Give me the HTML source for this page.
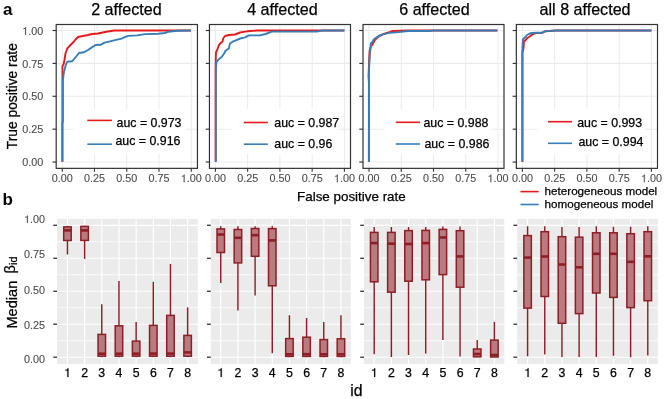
<!DOCTYPE html><html><head><meta charset="utf-8"><style>html,body{margin:0;padding:0;background:#fff;}svg{display:block;}text{font-family:"Liberation Sans", sans-serif;stroke-width:0.25px;}text[fill="#4D4D4D"]{stroke-width:0.12px;}</style></head><body>
<div style="will-change:transform;width:664px;height:399px"><svg width="664" height="399" viewBox="0 0 664 399">
<rect x="0" y="0" width="664" height="399" fill="#fff"/>
<text x="3.0" y="14.5" font-size="17" font-weight="bold" fill="#000" stroke="#000" style="stroke-width:0">a</text>
<text x="2.6" y="204.7" font-size="17" font-weight="bold" fill="#000" stroke="#000" style="stroke-width:0">b</text>
<line x1="62.25" y1="24.50" x2="62.25" y2="168.35" stroke="#EBEBEB" stroke-width="1.05"/>
<line x1="56.20" y1="162.05" x2="197.45" y2="162.05" stroke="#EBEBEB" stroke-width="1.05"/>
<line x1="94.50" y1="24.50" x2="94.50" y2="168.35" stroke="#EBEBEB" stroke-width="1.05"/>
<line x1="56.20" y1="129.16" x2="197.45" y2="129.16" stroke="#EBEBEB" stroke-width="1.05"/>
<line x1="126.75" y1="24.50" x2="126.75" y2="168.35" stroke="#EBEBEB" stroke-width="1.05"/>
<line x1="56.20" y1="96.28" x2="197.45" y2="96.28" stroke="#EBEBEB" stroke-width="1.05"/>
<line x1="159.00" y1="24.50" x2="159.00" y2="168.35" stroke="#EBEBEB" stroke-width="1.05"/>
<line x1="56.20" y1="63.39" x2="197.45" y2="63.39" stroke="#EBEBEB" stroke-width="1.05"/>
<line x1="191.25" y1="24.50" x2="191.25" y2="168.35" stroke="#EBEBEB" stroke-width="1.05"/>
<line x1="56.20" y1="30.50" x2="197.45" y2="30.50" stroke="#EBEBEB" stroke-width="1.05"/>
<polyline points="62.45,161.70 62.45,66.00 63.50,64.50 64.50,60.00 65.40,53.80 67.00,49.30 68.00,47.60 71.00,44.50 74.00,41.50 75.50,39.50 78.00,37.00 83.00,36.00 88.00,35.00 92.00,34.00 98.00,33.50 106.30,31.80 114.40,30.50 191.00,30.50" fill="none" stroke="#E41A1C" stroke-width="1.9" stroke-linejoin="round"/>
<polyline points="62.30,161.70 62.30,122.50 62.90,122.00 62.90,81.00 63.50,75.00 64.00,72.00 65.50,66.00 67.00,62.00 68.00,61.50 72.30,61.20 74.60,58.50 79.00,53.00 84.00,52.30 88.00,50.00 93.00,46.60 95.60,45.00 100.60,44.80 104.60,42.70 111.10,41.10 116.00,39.90 121.70,38.60 124.20,37.30 128.20,35.90 137.20,35.40 145.30,34.10 158.30,33.80 164.80,33.00 168.10,31.80 177.80,30.80 191.00,30.50" fill="none" stroke="#377EB8" stroke-width="1.9" stroke-linejoin="round"/>
<rect x="73.50" y="109.00" width="112.50" height="45.00" fill="#fff"/>
<line x1="87.30" y1="120.40" x2="111.90" y2="120.40" stroke="#E41A1C" stroke-width="1.6"/>
<line x1="87.30" y1="144.20" x2="111.90" y2="144.20" stroke="#377EB8" stroke-width="1.6"/>
<text x="116.60" y="126.60" font-size="12.35" fill="#000" stroke="#000">auc = 0.973</text>
<text x="115.50" y="145.20" font-size="12.35" fill="#000" stroke="#000">auc = 0.916</text>
<rect x="56.20" y="24.50" width="141.25" height="143.85" fill="none" stroke="#333" stroke-width="1.2"/>
<line x1="52.50" y1="162.05" x2="56.20" y2="162.05" stroke="#333" stroke-width="1.15"/>
<line x1="52.50" y1="129.16" x2="56.20" y2="129.16" stroke="#333" stroke-width="1.15"/>
<line x1="52.50" y1="96.28" x2="56.20" y2="96.28" stroke="#333" stroke-width="1.15"/>
<line x1="52.50" y1="63.39" x2="56.20" y2="63.39" stroke="#333" stroke-width="1.15"/>
<line x1="52.50" y1="30.50" x2="56.20" y2="30.50" stroke="#333" stroke-width="1.15"/>
<line x1="62.25" y1="168.35" x2="62.25" y2="171.75" stroke="#333" stroke-width="1.1"/>
<text x="62.25" y="182.2" font-size="10.8" fill="#4D4D4D" stroke="#4D4D4D" text-anchor="middle">0.00</text>
<line x1="94.50" y1="168.35" x2="94.50" y2="171.75" stroke="#333" stroke-width="1.1"/>
<text x="94.50" y="182.2" font-size="10.8" fill="#4D4D4D" stroke="#4D4D4D" text-anchor="middle">0.25</text>
<line x1="126.75" y1="168.35" x2="126.75" y2="171.75" stroke="#333" stroke-width="1.1"/>
<text x="126.75" y="182.2" font-size="10.8" fill="#4D4D4D" stroke="#4D4D4D" text-anchor="middle">0.50</text>
<line x1="159.00" y1="168.35" x2="159.00" y2="171.75" stroke="#333" stroke-width="1.1"/>
<text x="159.00" y="182.2" font-size="10.8" fill="#4D4D4D" stroke="#4D4D4D" text-anchor="middle">0.75</text>
<line x1="191.25" y1="168.35" x2="191.25" y2="171.75" stroke="#333" stroke-width="1.1"/>
<polygon points="183.67,182.20 184.62,182.20 184.62,174.61 183.92,174.61 183.74,175.13 183.31,175.61 182.69,175.85 181.83,175.94 181.83,176.61 183.67,176.61" fill="#4D4D4D" stroke="#4D4D4D" stroke-width="0.12"/><text x="186.75" y="182.20" font-size="10.8" fill="#4D4D4D" stroke="#4D4D4D">.00</text>
<text x="126.40" y="14.5" font-size="16.1" fill="#000" stroke="#000" text-anchor="middle">2 affected</text>
<line x1="215.40" y1="24.50" x2="215.40" y2="168.35" stroke="#EBEBEB" stroke-width="1.05"/>
<line x1="209.45" y1="162.05" x2="350.50" y2="162.05" stroke="#EBEBEB" stroke-width="1.05"/>
<line x1="247.65" y1="24.50" x2="247.65" y2="168.35" stroke="#EBEBEB" stroke-width="1.05"/>
<line x1="209.45" y1="129.16" x2="350.50" y2="129.16" stroke="#EBEBEB" stroke-width="1.05"/>
<line x1="279.90" y1="24.50" x2="279.90" y2="168.35" stroke="#EBEBEB" stroke-width="1.05"/>
<line x1="209.45" y1="96.28" x2="350.50" y2="96.28" stroke="#EBEBEB" stroke-width="1.05"/>
<line x1="312.15" y1="24.50" x2="312.15" y2="168.35" stroke="#EBEBEB" stroke-width="1.05"/>
<line x1="209.45" y1="63.39" x2="350.50" y2="63.39" stroke="#EBEBEB" stroke-width="1.05"/>
<line x1="344.40" y1="24.50" x2="344.40" y2="168.35" stroke="#EBEBEB" stroke-width="1.05"/>
<line x1="209.45" y1="30.50" x2="350.50" y2="30.50" stroke="#EBEBEB" stroke-width="1.05"/>
<polyline points="215.60,161.70 215.60,69.10 215.80,56.00 216.00,52.30 217.50,49.20 218.80,45.40 220.70,42.90 222.50,41.70 223.20,38.50 225.00,36.00 228.80,35.00 235.00,34.50 240.10,32.50 245.10,31.60 250.00,31.00 257.10,30.50 344.40,30.50" fill="none" stroke="#E41A1C" stroke-width="1.9" stroke-linejoin="round"/>
<polyline points="215.85,161.70 215.85,69.10 216.30,62.40 218.20,59.90 221.90,56.70 224.40,53.00 225.70,50.50 228.80,48.60 230.00,43.60 232.60,41.70 237.00,39.80 240.10,38.50 245.10,37.30 248.90,35.40 260.00,35.40 265.50,34.00 271.80,31.60 316.80,31.60 322.40,30.50 344.40,30.50" fill="none" stroke="#377EB8" stroke-width="1.9" stroke-linejoin="round"/>
<rect x="231.70" y="109.00" width="107.30" height="45.30" fill="#fff"/>
<line x1="243.80" y1="122.50" x2="267.80" y2="122.50" stroke="#E41A1C" stroke-width="1.6"/>
<line x1="243.80" y1="144.20" x2="267.80" y2="144.20" stroke="#377EB8" stroke-width="1.6"/>
<text x="274.30" y="127.10" font-size="12.35" fill="#000" stroke="#000">auc = 0.987</text>
<text x="274.30" y="147.60" font-size="12.35" fill="#000" stroke="#000">auc = 0.96</text>
<rect x="209.45" y="24.50" width="141.05" height="143.85" fill="none" stroke="#333" stroke-width="1.2"/>
<line x1="205.75" y1="162.05" x2="209.45" y2="162.05" stroke="#333" stroke-width="1.15"/>
<line x1="205.75" y1="129.16" x2="209.45" y2="129.16" stroke="#333" stroke-width="1.15"/>
<line x1="205.75" y1="96.28" x2="209.45" y2="96.28" stroke="#333" stroke-width="1.15"/>
<line x1="205.75" y1="63.39" x2="209.45" y2="63.39" stroke="#333" stroke-width="1.15"/>
<line x1="205.75" y1="30.50" x2="209.45" y2="30.50" stroke="#333" stroke-width="1.15"/>
<line x1="215.40" y1="168.35" x2="215.40" y2="171.75" stroke="#333" stroke-width="1.1"/>
<text x="215.40" y="182.2" font-size="10.8" fill="#4D4D4D" stroke="#4D4D4D" text-anchor="middle">0.00</text>
<line x1="247.65" y1="168.35" x2="247.65" y2="171.75" stroke="#333" stroke-width="1.1"/>
<text x="247.65" y="182.2" font-size="10.8" fill="#4D4D4D" stroke="#4D4D4D" text-anchor="middle">0.25</text>
<line x1="279.90" y1="168.35" x2="279.90" y2="171.75" stroke="#333" stroke-width="1.1"/>
<text x="279.90" y="182.2" font-size="10.8" fill="#4D4D4D" stroke="#4D4D4D" text-anchor="middle">0.50</text>
<line x1="312.15" y1="168.35" x2="312.15" y2="171.75" stroke="#333" stroke-width="1.1"/>
<text x="312.15" y="182.2" font-size="10.8" fill="#4D4D4D" stroke="#4D4D4D" text-anchor="middle">0.75</text>
<line x1="344.40" y1="168.35" x2="344.40" y2="171.75" stroke="#333" stroke-width="1.1"/>
<polygon points="336.82,182.20 337.77,182.20 337.77,174.61 337.07,174.61 336.89,175.13 336.46,175.61 335.84,175.85 334.98,175.94 334.98,176.61 336.82,176.61" fill="#4D4D4D" stroke="#4D4D4D" stroke-width="0.12"/><text x="339.90" y="182.20" font-size="10.8" fill="#4D4D4D" stroke="#4D4D4D">.00</text>
<text x="282.40" y="14.5" font-size="16.1" fill="#000" stroke="#000" text-anchor="middle">4 affected</text>
<line x1="369.00" y1="24.50" x2="369.00" y2="168.35" stroke="#EBEBEB" stroke-width="1.05"/>
<line x1="363.00" y1="162.05" x2="504.00" y2="162.05" stroke="#EBEBEB" stroke-width="1.05"/>
<line x1="401.25" y1="24.50" x2="401.25" y2="168.35" stroke="#EBEBEB" stroke-width="1.05"/>
<line x1="363.00" y1="129.16" x2="504.00" y2="129.16" stroke="#EBEBEB" stroke-width="1.05"/>
<line x1="433.50" y1="24.50" x2="433.50" y2="168.35" stroke="#EBEBEB" stroke-width="1.05"/>
<line x1="363.00" y1="96.28" x2="504.00" y2="96.28" stroke="#EBEBEB" stroke-width="1.05"/>
<line x1="465.75" y1="24.50" x2="465.75" y2="168.35" stroke="#EBEBEB" stroke-width="1.05"/>
<line x1="363.00" y1="63.39" x2="504.00" y2="63.39" stroke="#EBEBEB" stroke-width="1.05"/>
<line x1="498.00" y1="24.50" x2="498.00" y2="168.35" stroke="#EBEBEB" stroke-width="1.05"/>
<line x1="363.00" y1="30.50" x2="504.00" y2="30.50" stroke="#EBEBEB" stroke-width="1.05"/>
<polyline points="368.90,161.70 368.90,82.00 368.50,76.00 369.00,65.00 369.60,51.00 370.80,46.50 372.40,44.60 374.80,40.20 378.00,37.00 382.00,34.60 386.00,33.20 389.50,32.10 392.70,31.00 408.00,30.50 497.40,30.50" fill="none" stroke="#E41A1C" stroke-width="1.9" stroke-linejoin="round"/>
<polyline points="368.90,161.70 369.00,70.00 369.80,55.00 370.60,47.50 370.80,43.30 372.30,42.20 373.80,39.50 376.00,37.70 379.80,35.40 385.00,33.90 389.60,32.90 393.60,32.60 399.00,32.10 408.00,31.00 429.70,31.00 433.40,30.50 497.40,30.50" fill="none" stroke="#377EB8" stroke-width="1.9" stroke-linejoin="round"/>
<rect x="384.00" y="109.00" width="108.00" height="45.30" fill="#fff"/>
<line x1="395.80" y1="122.30" x2="419.90" y2="122.30" stroke="#E41A1C" stroke-width="1.6"/>
<line x1="395.80" y1="144.00" x2="419.90" y2="144.00" stroke="#377EB8" stroke-width="1.6"/>
<text x="423.50" y="126.90" font-size="12.35" fill="#000" stroke="#000">auc = 0.988</text>
<text x="424.50" y="147.80" font-size="12.35" fill="#000" stroke="#000">auc = 0.986</text>
<rect x="363.00" y="24.50" width="141.00" height="143.85" fill="none" stroke="#333" stroke-width="1.2"/>
<line x1="359.30" y1="162.05" x2="363.00" y2="162.05" stroke="#333" stroke-width="1.15"/>
<line x1="359.30" y1="129.16" x2="363.00" y2="129.16" stroke="#333" stroke-width="1.15"/>
<line x1="359.30" y1="96.28" x2="363.00" y2="96.28" stroke="#333" stroke-width="1.15"/>
<line x1="359.30" y1="63.39" x2="363.00" y2="63.39" stroke="#333" stroke-width="1.15"/>
<line x1="359.30" y1="30.50" x2="363.00" y2="30.50" stroke="#333" stroke-width="1.15"/>
<line x1="369.00" y1="168.35" x2="369.00" y2="171.75" stroke="#333" stroke-width="1.1"/>
<text x="369.00" y="182.2" font-size="10.8" fill="#4D4D4D" stroke="#4D4D4D" text-anchor="middle">0.00</text>
<line x1="401.25" y1="168.35" x2="401.25" y2="171.75" stroke="#333" stroke-width="1.1"/>
<text x="401.25" y="182.2" font-size="10.8" fill="#4D4D4D" stroke="#4D4D4D" text-anchor="middle">0.25</text>
<line x1="433.50" y1="168.35" x2="433.50" y2="171.75" stroke="#333" stroke-width="1.1"/>
<text x="433.50" y="182.2" font-size="10.8" fill="#4D4D4D" stroke="#4D4D4D" text-anchor="middle">0.50</text>
<line x1="465.75" y1="168.35" x2="465.75" y2="171.75" stroke="#333" stroke-width="1.1"/>
<text x="465.75" y="182.2" font-size="10.8" fill="#4D4D4D" stroke="#4D4D4D" text-anchor="middle">0.75</text>
<line x1="498.00" y1="168.35" x2="498.00" y2="171.75" stroke="#333" stroke-width="1.1"/>
<polygon points="490.42,182.20 491.37,182.20 491.37,174.61 490.67,174.61 490.49,175.13 490.06,175.61 489.44,175.85 488.58,175.94 488.58,176.61 490.42,176.61" fill="#4D4D4D" stroke="#4D4D4D" stroke-width="0.12"/><text x="493.50" y="182.20" font-size="10.8" fill="#4D4D4D" stroke="#4D4D4D">.00</text>
<text x="434.45" y="14.5" font-size="16.1" fill="#000" stroke="#000" text-anchor="middle">6 affected</text>
<line x1="522.40" y1="24.50" x2="522.40" y2="168.35" stroke="#EBEBEB" stroke-width="1.05"/>
<line x1="516.35" y1="162.05" x2="657.50" y2="162.05" stroke="#EBEBEB" stroke-width="1.05"/>
<line x1="554.65" y1="24.50" x2="554.65" y2="168.35" stroke="#EBEBEB" stroke-width="1.05"/>
<line x1="516.35" y1="129.16" x2="657.50" y2="129.16" stroke="#EBEBEB" stroke-width="1.05"/>
<line x1="586.90" y1="24.50" x2="586.90" y2="168.35" stroke="#EBEBEB" stroke-width="1.05"/>
<line x1="516.35" y1="96.28" x2="657.50" y2="96.28" stroke="#EBEBEB" stroke-width="1.05"/>
<line x1="619.15" y1="24.50" x2="619.15" y2="168.35" stroke="#EBEBEB" stroke-width="1.05"/>
<line x1="516.35" y1="63.39" x2="657.50" y2="63.39" stroke="#EBEBEB" stroke-width="1.05"/>
<line x1="651.40" y1="24.50" x2="651.40" y2="168.35" stroke="#EBEBEB" stroke-width="1.05"/>
<line x1="516.35" y1="30.50" x2="657.50" y2="30.50" stroke="#EBEBEB" stroke-width="1.05"/>
<polyline points="522.40,161.70 522.40,53.00 523.50,48.00 524.00,41.50 526.00,39.50 527.80,37.70 531.20,35.50 533.00,34.00 536.00,33.00 542.00,32.90 545.00,31.40 549.60,31.00 556.00,30.50 651.40,30.50" fill="none" stroke="#E41A1C" stroke-width="1.9" stroke-linejoin="round"/>
<polyline points="522.40,161.70 522.40,48.60 522.90,39.50 523.60,38.40 525.50,36.90 527.00,35.00 529.00,34.00 531.50,33.00 537.00,32.80 542.00,32.80 545.00,31.30 549.60,30.90 556.00,30.50 651.40,30.50" fill="none" stroke="#377EB8" stroke-width="1.9" stroke-linejoin="round"/>
<rect x="537.00" y="109.00" width="108.00" height="45.30" fill="#fff"/>
<line x1="548.00" y1="121.70" x2="572.00" y2="121.70" stroke="#E41A1C" stroke-width="1.6"/>
<line x1="548.00" y1="143.30" x2="572.00" y2="143.30" stroke="#377EB8" stroke-width="1.6"/>
<text x="577.20" y="126.80" font-size="12.35" fill="#000" stroke="#000">auc = 0.993</text>
<text x="578.50" y="145.70" font-size="12.35" fill="#000" stroke="#000">auc = 0.994</text>
<rect x="516.35" y="24.50" width="141.15" height="143.85" fill="none" stroke="#333" stroke-width="1.2"/>
<line x1="512.65" y1="162.05" x2="516.35" y2="162.05" stroke="#333" stroke-width="1.15"/>
<line x1="512.65" y1="129.16" x2="516.35" y2="129.16" stroke="#333" stroke-width="1.15"/>
<line x1="512.65" y1="96.28" x2="516.35" y2="96.28" stroke="#333" stroke-width="1.15"/>
<line x1="512.65" y1="63.39" x2="516.35" y2="63.39" stroke="#333" stroke-width="1.15"/>
<line x1="512.65" y1="30.50" x2="516.35" y2="30.50" stroke="#333" stroke-width="1.15"/>
<line x1="522.40" y1="168.35" x2="522.40" y2="171.75" stroke="#333" stroke-width="1.1"/>
<text x="522.40" y="182.2" font-size="10.8" fill="#4D4D4D" stroke="#4D4D4D" text-anchor="middle">0.00</text>
<line x1="554.65" y1="168.35" x2="554.65" y2="171.75" stroke="#333" stroke-width="1.1"/>
<text x="554.65" y="182.2" font-size="10.8" fill="#4D4D4D" stroke="#4D4D4D" text-anchor="middle">0.25</text>
<line x1="586.90" y1="168.35" x2="586.90" y2="171.75" stroke="#333" stroke-width="1.1"/>
<text x="586.90" y="182.2" font-size="10.8" fill="#4D4D4D" stroke="#4D4D4D" text-anchor="middle">0.50</text>
<line x1="619.15" y1="168.35" x2="619.15" y2="171.75" stroke="#333" stroke-width="1.1"/>
<text x="619.15" y="182.2" font-size="10.8" fill="#4D4D4D" stroke="#4D4D4D" text-anchor="middle">0.75</text>
<line x1="651.40" y1="168.35" x2="651.40" y2="171.75" stroke="#333" stroke-width="1.1"/>
<polygon points="643.82,182.20 644.77,182.20 644.77,174.61 644.07,174.61 643.89,175.13 643.46,175.61 642.84,175.85 641.98,175.94 641.98,176.61 643.82,176.61" fill="#4D4D4D" stroke="#4D4D4D" stroke-width="0.12"/><text x="646.90" y="182.20" font-size="10.8" fill="#4D4D4D" stroke="#4D4D4D">.00</text>
<text x="585.05" y="14.5" font-size="16.1" fill="#000" stroke="#000" text-anchor="middle">all 8 affected</text>
<text x="43.2" y="166.25" font-size="10.8" fill="#4D4D4D" stroke="#4D4D4D" text-anchor="end">0.00</text>
<text x="43.2" y="133.36" font-size="10.8" fill="#4D4D4D" stroke="#4D4D4D" text-anchor="end">0.25</text>
<text x="43.2" y="100.48" font-size="10.8" fill="#4D4D4D" stroke="#4D4D4D" text-anchor="end">0.50</text>
<text x="43.2" y="67.59" font-size="10.8" fill="#4D4D4D" stroke="#4D4D4D" text-anchor="end">0.75</text>
<polygon points="25.11,34.70 26.06,34.70 26.06,27.11 25.36,27.11 25.19,27.63 24.75,28.11 24.13,28.35 23.27,28.44 23.27,29.11 25.11,29.11" fill="#4D4D4D" stroke="#4D4D4D" stroke-width="0.12"/><text x="28.19" y="34.70" font-size="10.8" fill="#4D4D4D" stroke="#4D4D4D">.00</text>
<text transform="translate(16.8,96.2) rotate(-90)" font-size="13.8" fill="#000" stroke="#000" text-anchor="middle">True positive rate</text>
<text x="351.4" y="201.3" font-size="13.4" fill="#000" stroke="#000" text-anchor="middle">False positive rate</text>
<line x1="520.5" y1="191.6" x2="538.7" y2="191.6" stroke="#E41A1C" stroke-width="1.6"/>
<line x1="520.5" y1="204.5" x2="538.7" y2="204.5" stroke="#377EB8" stroke-width="1.6"/>
<text x="544.6" y="195.3" font-size="11.65" fill="#000" stroke="#000">heterogeneous model</text>
<text x="544.6" y="207.5" font-size="11.65" fill="#000" stroke="#000">homogeneous model</text>
<rect x="57.06" y="218.90" width="140.74" height="145.10" fill="#EBEBEB"/>
<line x1="57.06" y1="340.71" x2="197.80" y2="340.71" stroke="#fff" stroke-width="0.8"/>
<line x1="57.06" y1="307.74" x2="197.80" y2="307.74" stroke="#fff" stroke-width="0.8"/>
<line x1="57.06" y1="274.76" x2="197.80" y2="274.76" stroke="#fff" stroke-width="0.8"/>
<line x1="57.06" y1="241.79" x2="197.80" y2="241.79" stroke="#fff" stroke-width="0.8"/>
<line x1="57.06" y1="357.20" x2="197.80" y2="357.20" stroke="#fff" stroke-width="1.15"/>
<line x1="57.06" y1="324.23" x2="197.80" y2="324.23" stroke="#fff" stroke-width="1.15"/>
<line x1="57.06" y1="291.25" x2="197.80" y2="291.25" stroke="#fff" stroke-width="1.15"/>
<line x1="57.06" y1="258.27" x2="197.80" y2="258.27" stroke="#fff" stroke-width="1.15"/>
<line x1="57.06" y1="225.30" x2="197.80" y2="225.30" stroke="#fff" stroke-width="1.15"/>
<line x1="67.45" y1="218.90" x2="67.45" y2="364.00" stroke="#fff" stroke-width="1.15"/>
<line x1="84.62" y1="218.90" x2="84.62" y2="364.00" stroke="#fff" stroke-width="1.15"/>
<line x1="101.79" y1="218.90" x2="101.79" y2="364.00" stroke="#fff" stroke-width="1.15"/>
<line x1="118.96" y1="218.90" x2="118.96" y2="364.00" stroke="#fff" stroke-width="1.15"/>
<line x1="136.13" y1="218.90" x2="136.13" y2="364.00" stroke="#fff" stroke-width="1.15"/>
<line x1="153.30" y1="218.90" x2="153.30" y2="364.00" stroke="#fff" stroke-width="1.15"/>
<line x1="170.47" y1="218.90" x2="170.47" y2="364.00" stroke="#fff" stroke-width="1.15"/>
<line x1="187.64" y1="218.90" x2="187.64" y2="364.00" stroke="#fff" stroke-width="1.15"/>
<line x1="67.45" y1="225.80" x2="67.45" y2="226.90" stroke="#8E1E25" stroke-width="1.45"/>
<line x1="67.45" y1="240.50" x2="67.45" y2="254.50" stroke="#8E1E25" stroke-width="1.45"/>
<rect x="63.70" y="226.90" width="7.50" height="13.60" fill="#BA7B80" stroke="#8E1E25" stroke-width="1.5"/>
<line x1="63.70" y1="230.40" x2="71.20" y2="230.40" stroke="#8E1E25" stroke-width="2.6"/>
<line x1="84.62" y1="225.80" x2="84.62" y2="226.40" stroke="#8E1E25" stroke-width="1.45"/>
<line x1="84.62" y1="240.40" x2="84.62" y2="258.90" stroke="#8E1E25" stroke-width="1.45"/>
<rect x="80.87" y="226.40" width="7.50" height="14.00" fill="#BA7B80" stroke="#8E1E25" stroke-width="1.5"/>
<line x1="80.87" y1="230.40" x2="88.37" y2="230.40" stroke="#8E1E25" stroke-width="2.6"/>
<line x1="101.79" y1="304.20" x2="101.79" y2="334.40" stroke="#8E1E25" stroke-width="1.45"/>
<line x1="101.79" y1="356.20" x2="101.79" y2="357.20" stroke="#8E1E25" stroke-width="1.45"/>
<rect x="98.04" y="334.40" width="7.50" height="21.80" fill="#BA7B80" stroke="#8E1E25" stroke-width="1.5"/>
<line x1="98.04" y1="353.70" x2="105.54" y2="353.70" stroke="#8E1E25" stroke-width="2.6"/>
<line x1="118.96" y1="281.00" x2="118.96" y2="325.80" stroke="#8E1E25" stroke-width="1.45"/>
<line x1="118.96" y1="356.20" x2="118.96" y2="357.20" stroke="#8E1E25" stroke-width="1.45"/>
<rect x="115.21" y="325.80" width="7.50" height="30.40" fill="#BA7B80" stroke="#8E1E25" stroke-width="1.5"/>
<line x1="115.21" y1="353.70" x2="122.71" y2="353.70" stroke="#8E1E25" stroke-width="2.6"/>
<line x1="136.13" y1="322.10" x2="136.13" y2="341.10" stroke="#8E1E25" stroke-width="1.45"/>
<line x1="136.13" y1="356.20" x2="136.13" y2="357.20" stroke="#8E1E25" stroke-width="1.45"/>
<rect x="132.38" y="341.10" width="7.50" height="15.10" fill="#BA7B80" stroke="#8E1E25" stroke-width="1.5"/>
<line x1="132.38" y1="353.70" x2="139.88" y2="353.70" stroke="#8E1E25" stroke-width="2.6"/>
<line x1="153.30" y1="281.80" x2="153.30" y2="325.40" stroke="#8E1E25" stroke-width="1.45"/>
<line x1="153.30" y1="356.20" x2="153.30" y2="357.20" stroke="#8E1E25" stroke-width="1.45"/>
<rect x="149.55" y="325.40" width="7.50" height="30.80" fill="#BA7B80" stroke="#8E1E25" stroke-width="1.5"/>
<line x1="149.55" y1="353.60" x2="157.05" y2="353.60" stroke="#8E1E25" stroke-width="2.6"/>
<line x1="170.47" y1="263.90" x2="170.47" y2="315.40" stroke="#8E1E25" stroke-width="1.45"/>
<line x1="170.47" y1="356.20" x2="170.47" y2="357.20" stroke="#8E1E25" stroke-width="1.45"/>
<rect x="166.72" y="315.40" width="7.50" height="40.80" fill="#BA7B80" stroke="#8E1E25" stroke-width="1.5"/>
<line x1="166.72" y1="353.60" x2="174.22" y2="353.60" stroke="#8E1E25" stroke-width="2.6"/>
<line x1="187.64" y1="307.40" x2="187.64" y2="335.40" stroke="#8E1E25" stroke-width="1.45"/>
<line x1="187.64" y1="356.20" x2="187.64" y2="357.20" stroke="#8E1E25" stroke-width="1.45"/>
<rect x="183.89" y="335.40" width="7.50" height="20.80" fill="#BA7B80" stroke="#8E1E25" stroke-width="1.5"/>
<line x1="183.89" y1="352.40" x2="191.39" y2="352.40" stroke="#8E1E25" stroke-width="2.6"/>
<line x1="53.26" y1="357.20" x2="57.06" y2="357.20" stroke="#333" stroke-width="1.3"/>
<line x1="53.26" y1="324.23" x2="57.06" y2="324.23" stroke="#333" stroke-width="1.3"/>
<line x1="53.26" y1="291.25" x2="57.06" y2="291.25" stroke="#333" stroke-width="1.3"/>
<line x1="53.26" y1="258.27" x2="57.06" y2="258.27" stroke="#333" stroke-width="1.3"/>
<line x1="53.26" y1="225.30" x2="57.06" y2="225.30" stroke="#333" stroke-width="1.3"/>
<polygon points="67.36,376.90 68.45,376.90 68.45,368.25 67.65,368.25 67.45,368.84 66.96,369.40 66.24,369.67 65.27,369.77 65.27,370.53 67.36,370.53" fill="#000" stroke="#000" stroke-width="0.20"/>
<text x="84.62" y="376.9" font-size="12.3" fill="#000" stroke="#000" text-anchor="middle">2</text>
<text x="101.79" y="376.9" font-size="12.3" fill="#000" stroke="#000" text-anchor="middle">3</text>
<text x="118.96" y="376.9" font-size="12.3" fill="#000" stroke="#000" text-anchor="middle">4</text>
<text x="136.13" y="376.9" font-size="12.3" fill="#000" stroke="#000" text-anchor="middle">5</text>
<text x="153.30" y="376.9" font-size="12.3" fill="#000" stroke="#000" text-anchor="middle">6</text>
<text x="170.47" y="376.9" font-size="12.3" fill="#000" stroke="#000" text-anchor="middle">7</text>
<text x="187.64" y="376.9" font-size="12.3" fill="#000" stroke="#000" text-anchor="middle">8</text>
<rect x="210.80" y="218.90" width="140.00" height="145.10" fill="#EBEBEB"/>
<line x1="210.80" y1="340.71" x2="350.80" y2="340.71" stroke="#fff" stroke-width="0.8"/>
<line x1="210.80" y1="307.74" x2="350.80" y2="307.74" stroke="#fff" stroke-width="0.8"/>
<line x1="210.80" y1="274.76" x2="350.80" y2="274.76" stroke="#fff" stroke-width="0.8"/>
<line x1="210.80" y1="241.79" x2="350.80" y2="241.79" stroke="#fff" stroke-width="0.8"/>
<line x1="210.80" y1="357.20" x2="350.80" y2="357.20" stroke="#fff" stroke-width="1.15"/>
<line x1="210.80" y1="324.23" x2="350.80" y2="324.23" stroke="#fff" stroke-width="1.15"/>
<line x1="210.80" y1="291.25" x2="350.80" y2="291.25" stroke="#fff" stroke-width="1.15"/>
<line x1="210.80" y1="258.27" x2="350.80" y2="258.27" stroke="#fff" stroke-width="1.15"/>
<line x1="210.80" y1="225.30" x2="350.80" y2="225.30" stroke="#fff" stroke-width="1.15"/>
<line x1="220.75" y1="218.90" x2="220.75" y2="364.00" stroke="#fff" stroke-width="1.15"/>
<line x1="237.92" y1="218.90" x2="237.92" y2="364.00" stroke="#fff" stroke-width="1.15"/>
<line x1="255.09" y1="218.90" x2="255.09" y2="364.00" stroke="#fff" stroke-width="1.15"/>
<line x1="272.26" y1="218.90" x2="272.26" y2="364.00" stroke="#fff" stroke-width="1.15"/>
<line x1="289.43" y1="218.90" x2="289.43" y2="364.00" stroke="#fff" stroke-width="1.15"/>
<line x1="306.60" y1="218.90" x2="306.60" y2="364.00" stroke="#fff" stroke-width="1.15"/>
<line x1="323.77" y1="218.90" x2="323.77" y2="364.00" stroke="#fff" stroke-width="1.15"/>
<line x1="340.94" y1="218.90" x2="340.94" y2="364.00" stroke="#fff" stroke-width="1.15"/>
<line x1="220.75" y1="226.20" x2="220.75" y2="228.90" stroke="#8E1E25" stroke-width="1.45"/>
<line x1="220.75" y1="252.50" x2="220.75" y2="283.00" stroke="#8E1E25" stroke-width="1.45"/>
<rect x="217.00" y="228.90" width="7.50" height="23.60" fill="#BA7B80" stroke="#8E1E25" stroke-width="1.5"/>
<line x1="217.00" y1="234.50" x2="224.50" y2="234.50" stroke="#8E1E25" stroke-width="2.6"/>
<line x1="237.92" y1="226.20" x2="237.92" y2="229.50" stroke="#8E1E25" stroke-width="1.45"/>
<line x1="237.92" y1="262.90" x2="237.92" y2="310.60" stroke="#8E1E25" stroke-width="1.45"/>
<rect x="234.17" y="229.50" width="7.50" height="33.40" fill="#BA7B80" stroke="#8E1E25" stroke-width="1.5"/>
<line x1="234.17" y1="237.80" x2="241.67" y2="237.80" stroke="#8E1E25" stroke-width="2.6"/>
<line x1="255.09" y1="226.20" x2="255.09" y2="228.50" stroke="#8E1E25" stroke-width="1.45"/>
<line x1="255.09" y1="256.30" x2="255.09" y2="295.50" stroke="#8E1E25" stroke-width="1.45"/>
<rect x="251.34" y="228.50" width="7.50" height="27.80" fill="#BA7B80" stroke="#8E1E25" stroke-width="1.5"/>
<line x1="251.34" y1="235.20" x2="258.84" y2="235.20" stroke="#8E1E25" stroke-width="2.6"/>
<line x1="272.26" y1="226.20" x2="272.26" y2="228.60" stroke="#8E1E25" stroke-width="1.45"/>
<line x1="272.26" y1="285.80" x2="272.26" y2="353.30" stroke="#8E1E25" stroke-width="1.45"/>
<rect x="268.51" y="228.60" width="7.50" height="57.20" fill="#BA7B80" stroke="#8E1E25" stroke-width="1.5"/>
<line x1="268.51" y1="240.40" x2="276.01" y2="240.40" stroke="#8E1E25" stroke-width="2.6"/>
<line x1="289.43" y1="315.20" x2="289.43" y2="338.60" stroke="#8E1E25" stroke-width="1.45"/>
<line x1="289.43" y1="356.40" x2="289.43" y2="357.20" stroke="#8E1E25" stroke-width="1.45"/>
<rect x="285.68" y="338.60" width="7.50" height="17.80" fill="#BA7B80" stroke="#8E1E25" stroke-width="1.5"/>
<line x1="285.68" y1="354.30" x2="293.18" y2="354.30" stroke="#8E1E25" stroke-width="2.6"/>
<line x1="306.60" y1="318.00" x2="306.60" y2="337.20" stroke="#8E1E25" stroke-width="1.45"/>
<line x1="306.60" y1="356.40" x2="306.60" y2="357.20" stroke="#8E1E25" stroke-width="1.45"/>
<rect x="302.85" y="337.20" width="7.50" height="19.20" fill="#BA7B80" stroke="#8E1E25" stroke-width="1.5"/>
<line x1="302.85" y1="354.20" x2="310.35" y2="354.20" stroke="#8E1E25" stroke-width="2.6"/>
<line x1="323.77" y1="322.00" x2="323.77" y2="339.60" stroke="#8E1E25" stroke-width="1.45"/>
<line x1="323.77" y1="356.40" x2="323.77" y2="357.20" stroke="#8E1E25" stroke-width="1.45"/>
<rect x="320.02" y="339.60" width="7.50" height="16.80" fill="#BA7B80" stroke="#8E1E25" stroke-width="1.5"/>
<line x1="320.02" y1="354.30" x2="327.52" y2="354.30" stroke="#8E1E25" stroke-width="2.6"/>
<line x1="340.94" y1="315.20" x2="340.94" y2="338.80" stroke="#8E1E25" stroke-width="1.45"/>
<line x1="340.94" y1="356.40" x2="340.94" y2="357.20" stroke="#8E1E25" stroke-width="1.45"/>
<rect x="337.19" y="338.80" width="7.50" height="17.60" fill="#BA7B80" stroke="#8E1E25" stroke-width="1.5"/>
<line x1="337.19" y1="354.30" x2="344.69" y2="354.30" stroke="#8E1E25" stroke-width="2.6"/>
<line x1="207.00" y1="357.20" x2="210.80" y2="357.20" stroke="#333" stroke-width="1.3"/>
<line x1="207.00" y1="324.23" x2="210.80" y2="324.23" stroke="#333" stroke-width="1.3"/>
<line x1="207.00" y1="291.25" x2="210.80" y2="291.25" stroke="#333" stroke-width="1.3"/>
<line x1="207.00" y1="258.27" x2="210.80" y2="258.27" stroke="#333" stroke-width="1.3"/>
<line x1="207.00" y1="225.30" x2="210.80" y2="225.30" stroke="#333" stroke-width="1.3"/>
<polygon points="220.66,376.90 221.75,376.90 221.75,368.25 220.95,368.25 220.75,368.84 220.26,369.40 219.54,369.67 218.57,369.77 218.57,370.53 220.66,370.53" fill="#000" stroke="#000" stroke-width="0.20"/>
<text x="237.92" y="376.9" font-size="12.3" fill="#000" stroke="#000" text-anchor="middle">2</text>
<text x="255.09" y="376.9" font-size="12.3" fill="#000" stroke="#000" text-anchor="middle">3</text>
<text x="272.26" y="376.9" font-size="12.3" fill="#000" stroke="#000" text-anchor="middle">4</text>
<text x="289.43" y="376.9" font-size="12.3" fill="#000" stroke="#000" text-anchor="middle">5</text>
<text x="306.60" y="376.9" font-size="12.3" fill="#000" stroke="#000" text-anchor="middle">6</text>
<text x="323.77" y="376.9" font-size="12.3" fill="#000" stroke="#000" text-anchor="middle">7</text>
<text x="340.94" y="376.9" font-size="12.3" fill="#000" stroke="#000" text-anchor="middle">8</text>
<rect x="364.00" y="218.90" width="140.30" height="145.10" fill="#EBEBEB"/>
<line x1="364.00" y1="340.71" x2="504.30" y2="340.71" stroke="#fff" stroke-width="0.8"/>
<line x1="364.00" y1="307.74" x2="504.30" y2="307.74" stroke="#fff" stroke-width="0.8"/>
<line x1="364.00" y1="274.76" x2="504.30" y2="274.76" stroke="#fff" stroke-width="0.8"/>
<line x1="364.00" y1="241.79" x2="504.30" y2="241.79" stroke="#fff" stroke-width="0.8"/>
<line x1="364.00" y1="357.20" x2="504.30" y2="357.20" stroke="#fff" stroke-width="1.15"/>
<line x1="364.00" y1="324.23" x2="504.30" y2="324.23" stroke="#fff" stroke-width="1.15"/>
<line x1="364.00" y1="291.25" x2="504.30" y2="291.25" stroke="#fff" stroke-width="1.15"/>
<line x1="364.00" y1="258.27" x2="504.30" y2="258.27" stroke="#fff" stroke-width="1.15"/>
<line x1="364.00" y1="225.30" x2="504.30" y2="225.30" stroke="#fff" stroke-width="1.15"/>
<line x1="374.20" y1="218.90" x2="374.20" y2="364.00" stroke="#fff" stroke-width="1.15"/>
<line x1="391.37" y1="218.90" x2="391.37" y2="364.00" stroke="#fff" stroke-width="1.15"/>
<line x1="408.54" y1="218.90" x2="408.54" y2="364.00" stroke="#fff" stroke-width="1.15"/>
<line x1="425.71" y1="218.90" x2="425.71" y2="364.00" stroke="#fff" stroke-width="1.15"/>
<line x1="442.88" y1="218.90" x2="442.88" y2="364.00" stroke="#fff" stroke-width="1.15"/>
<line x1="460.05" y1="218.90" x2="460.05" y2="364.00" stroke="#fff" stroke-width="1.15"/>
<line x1="477.22" y1="218.90" x2="477.22" y2="364.00" stroke="#fff" stroke-width="1.15"/>
<line x1="494.39" y1="218.90" x2="494.39" y2="364.00" stroke="#fff" stroke-width="1.15"/>
<line x1="374.20" y1="227.00" x2="374.20" y2="232.40" stroke="#8E1E25" stroke-width="1.45"/>
<line x1="374.20" y1="281.80" x2="374.20" y2="354.30" stroke="#8E1E25" stroke-width="1.45"/>
<rect x="370.45" y="232.40" width="7.50" height="49.40" fill="#BA7B80" stroke="#8E1E25" stroke-width="1.5"/>
<line x1="370.45" y1="243.10" x2="377.95" y2="243.10" stroke="#8E1E25" stroke-width="2.6"/>
<line x1="391.37" y1="227.00" x2="391.37" y2="232.40" stroke="#8E1E25" stroke-width="1.45"/>
<line x1="391.37" y1="292.20" x2="391.37" y2="357.00" stroke="#8E1E25" stroke-width="1.45"/>
<rect x="387.62" y="232.40" width="7.50" height="59.80" fill="#BA7B80" stroke="#8E1E25" stroke-width="1.5"/>
<line x1="387.62" y1="243.70" x2="395.12" y2="243.70" stroke="#8E1E25" stroke-width="2.6"/>
<line x1="408.54" y1="227.00" x2="408.54" y2="230.60" stroke="#8E1E25" stroke-width="1.45"/>
<line x1="408.54" y1="281.20" x2="408.54" y2="355.00" stroke="#8E1E25" stroke-width="1.45"/>
<rect x="404.79" y="230.60" width="7.50" height="50.60" fill="#BA7B80" stroke="#8E1E25" stroke-width="1.5"/>
<line x1="404.79" y1="244.00" x2="412.29" y2="244.00" stroke="#8E1E25" stroke-width="2.6"/>
<line x1="425.71" y1="227.00" x2="425.71" y2="230.40" stroke="#8E1E25" stroke-width="1.45"/>
<line x1="425.71" y1="279.80" x2="425.71" y2="353.60" stroke="#8E1E25" stroke-width="1.45"/>
<rect x="421.96" y="230.40" width="7.50" height="49.40" fill="#BA7B80" stroke="#8E1E25" stroke-width="1.5"/>
<line x1="421.96" y1="243.10" x2="429.46" y2="243.10" stroke="#8E1E25" stroke-width="2.6"/>
<line x1="442.88" y1="226.40" x2="442.88" y2="229.40" stroke="#8E1E25" stroke-width="1.45"/>
<line x1="442.88" y1="274.60" x2="442.88" y2="340.10" stroke="#8E1E25" stroke-width="1.45"/>
<rect x="439.13" y="229.40" width="7.50" height="45.20" fill="#BA7B80" stroke="#8E1E25" stroke-width="1.5"/>
<line x1="439.13" y1="237.50" x2="446.63" y2="237.50" stroke="#8E1E25" stroke-width="2.6"/>
<line x1="460.05" y1="226.40" x2="460.05" y2="230.70" stroke="#8E1E25" stroke-width="1.45"/>
<line x1="460.05" y1="287.20" x2="460.05" y2="356.50" stroke="#8E1E25" stroke-width="1.45"/>
<rect x="456.30" y="230.70" width="7.50" height="56.50" fill="#BA7B80" stroke="#8E1E25" stroke-width="1.5"/>
<line x1="456.30" y1="256.40" x2="463.80" y2="256.40" stroke="#8E1E25" stroke-width="2.6"/>
<line x1="477.22" y1="340.10" x2="477.22" y2="349.00" stroke="#8E1E25" stroke-width="1.45"/>
<line x1="477.22" y1="356.80" x2="477.22" y2="357.20" stroke="#8E1E25" stroke-width="1.45"/>
<rect x="473.47" y="349.00" width="7.50" height="7.80" fill="#BA7B80" stroke="#8E1E25" stroke-width="1.5"/>
<line x1="473.47" y1="354.00" x2="480.97" y2="354.00" stroke="#8E1E25" stroke-width="2.6"/>
<line x1="494.39" y1="321.90" x2="494.39" y2="340.10" stroke="#8E1E25" stroke-width="1.45"/>
<line x1="494.39" y1="357.00" x2="494.39" y2="357.20" stroke="#8E1E25" stroke-width="1.45"/>
<rect x="490.64" y="340.10" width="7.50" height="16.90" fill="#BA7B80" stroke="#8E1E25" stroke-width="1.5"/>
<line x1="490.64" y1="355.00" x2="498.14" y2="355.00" stroke="#8E1E25" stroke-width="2.6"/>
<line x1="360.20" y1="357.20" x2="364.00" y2="357.20" stroke="#333" stroke-width="1.3"/>
<line x1="360.20" y1="324.23" x2="364.00" y2="324.23" stroke="#333" stroke-width="1.3"/>
<line x1="360.20" y1="291.25" x2="364.00" y2="291.25" stroke="#333" stroke-width="1.3"/>
<line x1="360.20" y1="258.27" x2="364.00" y2="258.27" stroke="#333" stroke-width="1.3"/>
<line x1="360.20" y1="225.30" x2="364.00" y2="225.30" stroke="#333" stroke-width="1.3"/>
<polygon points="374.11,376.90 375.20,376.90 375.20,368.25 374.40,368.25 374.20,368.84 373.71,369.40 372.99,369.67 372.02,369.77 372.02,370.53 374.11,370.53" fill="#000" stroke="#000" stroke-width="0.20"/>
<text x="391.37" y="376.9" font-size="12.3" fill="#000" stroke="#000" text-anchor="middle">2</text>
<text x="408.54" y="376.9" font-size="12.3" fill="#000" stroke="#000" text-anchor="middle">3</text>
<text x="425.71" y="376.9" font-size="12.3" fill="#000" stroke="#000" text-anchor="middle">4</text>
<text x="442.88" y="376.9" font-size="12.3" fill="#000" stroke="#000" text-anchor="middle">5</text>
<text x="460.05" y="376.9" font-size="12.3" fill="#000" stroke="#000" text-anchor="middle">6</text>
<text x="477.22" y="376.9" font-size="12.3" fill="#000" stroke="#000" text-anchor="middle">7</text>
<text x="494.39" y="376.9" font-size="12.3" fill="#000" stroke="#000" text-anchor="middle">8</text>
<rect x="517.20" y="218.90" width="140.70" height="145.10" fill="#EBEBEB"/>
<line x1="517.20" y1="340.71" x2="657.90" y2="340.71" stroke="#fff" stroke-width="0.8"/>
<line x1="517.20" y1="307.74" x2="657.90" y2="307.74" stroke="#fff" stroke-width="0.8"/>
<line x1="517.20" y1="274.76" x2="657.90" y2="274.76" stroke="#fff" stroke-width="0.8"/>
<line x1="517.20" y1="241.79" x2="657.90" y2="241.79" stroke="#fff" stroke-width="0.8"/>
<line x1="517.20" y1="357.20" x2="657.90" y2="357.20" stroke="#fff" stroke-width="1.15"/>
<line x1="517.20" y1="324.23" x2="657.90" y2="324.23" stroke="#fff" stroke-width="1.15"/>
<line x1="517.20" y1="291.25" x2="657.90" y2="291.25" stroke="#fff" stroke-width="1.15"/>
<line x1="517.20" y1="258.27" x2="657.90" y2="258.27" stroke="#fff" stroke-width="1.15"/>
<line x1="517.20" y1="225.30" x2="657.90" y2="225.30" stroke="#fff" stroke-width="1.15"/>
<line x1="527.60" y1="218.90" x2="527.60" y2="364.00" stroke="#fff" stroke-width="1.15"/>
<line x1="544.77" y1="218.90" x2="544.77" y2="364.00" stroke="#fff" stroke-width="1.15"/>
<line x1="561.94" y1="218.90" x2="561.94" y2="364.00" stroke="#fff" stroke-width="1.15"/>
<line x1="579.11" y1="218.90" x2="579.11" y2="364.00" stroke="#fff" stroke-width="1.15"/>
<line x1="596.28" y1="218.90" x2="596.28" y2="364.00" stroke="#fff" stroke-width="1.15"/>
<line x1="613.45" y1="218.90" x2="613.45" y2="364.00" stroke="#fff" stroke-width="1.15"/>
<line x1="630.62" y1="218.90" x2="630.62" y2="364.00" stroke="#fff" stroke-width="1.15"/>
<line x1="647.79" y1="218.90" x2="647.79" y2="364.00" stroke="#fff" stroke-width="1.15"/>
<line x1="527.60" y1="226.30" x2="527.60" y2="235.60" stroke="#8E1E25" stroke-width="1.45"/>
<line x1="527.60" y1="308.10" x2="527.60" y2="356.30" stroke="#8E1E25" stroke-width="1.45"/>
<rect x="523.85" y="235.60" width="7.50" height="72.50" fill="#BA7B80" stroke="#8E1E25" stroke-width="1.5"/>
<line x1="523.85" y1="257.60" x2="531.35" y2="257.60" stroke="#8E1E25" stroke-width="2.6"/>
<line x1="544.77" y1="226.30" x2="544.77" y2="231.70" stroke="#8E1E25" stroke-width="1.45"/>
<line x1="544.77" y1="296.50" x2="544.77" y2="354.40" stroke="#8E1E25" stroke-width="1.45"/>
<rect x="541.02" y="231.70" width="7.50" height="64.80" fill="#BA7B80" stroke="#8E1E25" stroke-width="1.5"/>
<line x1="541.02" y1="256.50" x2="548.52" y2="256.50" stroke="#8E1E25" stroke-width="2.6"/>
<line x1="561.94" y1="227.00" x2="561.94" y2="236.70" stroke="#8E1E25" stroke-width="1.45"/>
<line x1="561.94" y1="323.30" x2="561.94" y2="356.90" stroke="#8E1E25" stroke-width="1.45"/>
<rect x="558.19" y="236.70" width="7.50" height="86.60" fill="#BA7B80" stroke="#8E1E25" stroke-width="1.5"/>
<line x1="558.19" y1="264.50" x2="565.69" y2="264.50" stroke="#8E1E25" stroke-width="2.6"/>
<line x1="579.11" y1="227.00" x2="579.11" y2="237.20" stroke="#8E1E25" stroke-width="1.45"/>
<line x1="579.11" y1="313.60" x2="579.11" y2="356.90" stroke="#8E1E25" stroke-width="1.45"/>
<rect x="575.36" y="237.20" width="7.50" height="76.40" fill="#BA7B80" stroke="#8E1E25" stroke-width="1.5"/>
<line x1="575.36" y1="267.30" x2="582.86" y2="267.30" stroke="#8E1E25" stroke-width="2.6"/>
<line x1="596.28" y1="226.30" x2="596.28" y2="232.80" stroke="#8E1E25" stroke-width="1.45"/>
<line x1="596.28" y1="293.00" x2="596.28" y2="356.90" stroke="#8E1E25" stroke-width="1.45"/>
<rect x="592.53" y="232.80" width="7.50" height="60.20" fill="#BA7B80" stroke="#8E1E25" stroke-width="1.5"/>
<line x1="592.53" y1="253.80" x2="600.03" y2="253.80" stroke="#8E1E25" stroke-width="2.6"/>
<line x1="613.45" y1="226.80" x2="613.45" y2="232.80" stroke="#8E1E25" stroke-width="1.45"/>
<line x1="613.45" y1="297.40" x2="613.45" y2="355.80" stroke="#8E1E25" stroke-width="1.45"/>
<rect x="609.70" y="232.80" width="7.50" height="64.60" fill="#BA7B80" stroke="#8E1E25" stroke-width="1.5"/>
<line x1="609.70" y1="253.80" x2="617.20" y2="253.80" stroke="#8E1E25" stroke-width="2.6"/>
<line x1="630.62" y1="226.80" x2="630.62" y2="233.70" stroke="#8E1E25" stroke-width="1.45"/>
<line x1="630.62" y1="307.60" x2="630.62" y2="357.30" stroke="#8E1E25" stroke-width="1.45"/>
<rect x="626.87" y="233.70" width="7.50" height="73.90" fill="#BA7B80" stroke="#8E1E25" stroke-width="1.5"/>
<line x1="626.87" y1="261.80" x2="634.37" y2="261.80" stroke="#8E1E25" stroke-width="2.6"/>
<line x1="647.79" y1="226.30" x2="647.79" y2="231.70" stroke="#8E1E25" stroke-width="1.45"/>
<line x1="647.79" y1="300.70" x2="647.79" y2="355.40" stroke="#8E1E25" stroke-width="1.45"/>
<rect x="644.04" y="231.70" width="7.50" height="69.00" fill="#BA7B80" stroke="#8E1E25" stroke-width="1.5"/>
<line x1="644.04" y1="256.30" x2="651.54" y2="256.30" stroke="#8E1E25" stroke-width="2.6"/>
<line x1="513.40" y1="357.20" x2="517.20" y2="357.20" stroke="#333" stroke-width="1.3"/>
<line x1="513.40" y1="324.23" x2="517.20" y2="324.23" stroke="#333" stroke-width="1.3"/>
<line x1="513.40" y1="291.25" x2="517.20" y2="291.25" stroke="#333" stroke-width="1.3"/>
<line x1="513.40" y1="258.27" x2="517.20" y2="258.27" stroke="#333" stroke-width="1.3"/>
<line x1="513.40" y1="225.30" x2="517.20" y2="225.30" stroke="#333" stroke-width="1.3"/>
<polygon points="527.51,376.90 528.60,376.90 528.60,368.25 527.80,368.25 527.60,368.84 527.11,369.40 526.39,369.67 525.42,369.77 525.42,370.53 527.51,370.53" fill="#000" stroke="#000" stroke-width="0.20"/>
<text x="544.77" y="376.9" font-size="12.3" fill="#000" stroke="#000" text-anchor="middle">2</text>
<text x="561.94" y="376.9" font-size="12.3" fill="#000" stroke="#000" text-anchor="middle">3</text>
<text x="579.11" y="376.9" font-size="12.3" fill="#000" stroke="#000" text-anchor="middle">4</text>
<text x="596.28" y="376.9" font-size="12.3" fill="#000" stroke="#000" text-anchor="middle">5</text>
<text x="613.45" y="376.9" font-size="12.3" fill="#000" stroke="#000" text-anchor="middle">6</text>
<text x="630.62" y="376.9" font-size="12.3" fill="#000" stroke="#000" text-anchor="middle">7</text>
<text x="647.79" y="376.9" font-size="12.3" fill="#000" stroke="#000" text-anchor="middle">8</text>
<polygon points="26.91,223.10 27.86,223.10 27.86,215.51 27.16,215.51 26.99,216.03 26.55,216.51 25.93,216.75 25.07,216.84 25.07,217.51 26.91,217.51" fill="#4D4D4D" stroke="#4D4D4D" stroke-width="0.12"/><text x="29.99" y="223.10" font-size="10.8" fill="#4D4D4D" stroke="#4D4D4D">.00</text>
<text x="45.0" y="258.00" font-size="10.8" fill="#4D4D4D" stroke="#4D4D4D" text-anchor="end">0.75</text>
<text x="45.0" y="293.50" font-size="10.8" fill="#4D4D4D" stroke="#4D4D4D" text-anchor="end">0.50</text>
<text x="45.0" y="328.60" font-size="10.8" fill="#4D4D4D" stroke="#4D4D4D" text-anchor="end">0.25</text>
<text x="45.0" y="362.70" font-size="10.8" fill="#4D4D4D" stroke="#4D4D4D" text-anchor="end">0.00</text>
<text x="356.4" y="395.6" font-size="15.8" fill="#000" stroke="#000" text-anchor="middle">id</text>
<text transform="translate(16.5,328.6) rotate(-90)" font-size="14.6" fill="#000" stroke="#000">Median</text>
<text transform="translate(14.6,273.6) rotate(-90)" font-size="14.6" fill="#000" stroke="#000">β</text>
<text transform="translate(16.6,265.0) rotate(-90)" font-size="11" fill="#000" stroke="#000">id</text>
</svg></div></body></html>
